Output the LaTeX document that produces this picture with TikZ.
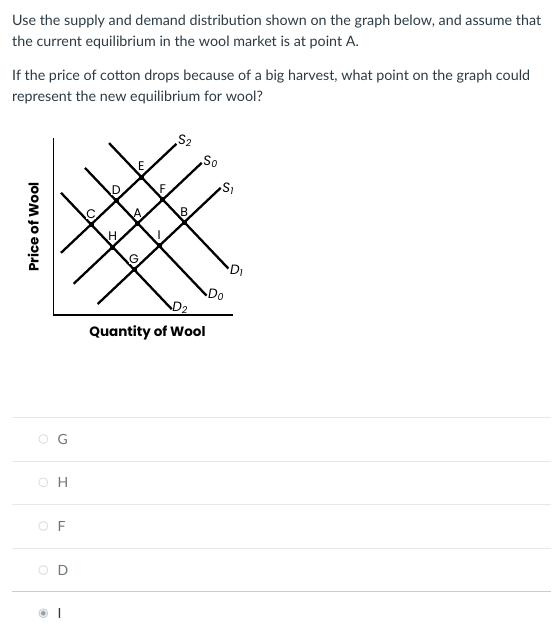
\documentclass[tikz,border=0pt]{standalone}
\usepackage{fontspec}
\setmainfont{Lato}
\newfontfamily\gfont{Poppins}
\usetikzlibrary{calc}
\definecolor{txt}{HTML}{2D3B45}
\definecolor{opttxt}{HTML}{6B7780}
\definecolor{sepc}{HTML}{E6E8EA}
\definecolor{sepd}{HTML}{C7CDD1}
\definecolor{radc}{HTML}{D5D9DC}
\tikzset{
  qtext/.style={anchor=base west, inner sep=0, text=txt, font=\fontsize{14.3}{17}\selectfont},
  curve/.style={line width=2.3pt, black},
  axis/.style={line width=1.2pt, black},
  pt/.style={rectangle, fill=black, minimum size=5pt, inner sep=0},
  plabel/.style={fill=white, inner sep=0.3pt, font=\gfont\fontsize{12.5}{12.5}\selectfont},
  clabel/.style={anchor=west, inner sep=0.5pt, font=\gfont\itshape\fontsize{13.5}{13.5}\selectfont},
  albl/.style={inner sep=0, font=\gfont\bfseries\fontsize{13.5}{13.5}\selectfont},
  sep/.style={draw=sepc, line width=0.8pt},
  sepdark/.style={draw=sepd, line width=0.8pt},
  radio/.style={circle, draw=radc, line width=0.7pt, minimum size=9pt, inner sep=0},
  opt/.style={anchor=west, inner sep=0, text=opttxt, font=\fontsize{14}{14}\selectfont}
}
\begin{document}
\begin{tikzpicture}[x=1pt,y=-1pt]
\useasboundingbox[fill=white] (0,0) rectangle (558,638);

% question text
\node[qtext] (q1) at (12,25.7) {Use the supply and demand distribution shown on the graph below, and assume that};
\node[qtext] (q2) at (12,46.7) {the current equilibrium in the wool market is at point A.};
\node[qtext] (q3) at (12,80.3) {If the price of cotton drops because of a big harvest, what point on the graph could};
\node[qtext] (q4) at (12,101.3) {represent the new equilibrium for wool?};

% grid of the graph
\coordinate (A) at (137.7,223.3);
\coordinate (p) at (21.5,22.6);
\coordinate (q) at (25.1,-23.7);
\coordinate (C) at ($(A)-(p)-(q)$);
\coordinate (D) at ($(A)-(p)$);
\coordinate (E) at ($(A)-(p)+(q)$);
\coordinate (H) at ($(A)-(q)$);
\coordinate (F) at ($(A)+(q)$);
\coordinate (G) at ($(A)+(p)-(q)$);
\coordinate (I) at ($(A)+(p)$);
\coordinate (B) at ($(A)+(p)+(q)$);

% curve ends
\coordinate (s2a) at ($(C)-1.2*(q)$);
\coordinate (s2b) at ($(E)+1.4*(q)$);
\coordinate (s0a) at ($(H)-1.55*(q)$);
\coordinate (s0b) at ($(F)+1.55*(q)$);
\coordinate (s1a) at ($(G)-1.45*(q)$);
\coordinate (s1b) at ($(B)+1.45*(q)$);
\coordinate (d1a) at ($(E)-1.5*(p)$);
\coordinate (d1b) at ($(B)+2.05*(p)$);
\coordinate (d0a) at ($(D)-1.45*(p)$);
\coordinate (d0b) at ($(I)+2.2*(p)$);
\coordinate (d2a) at ($(C)-1.4*(p)$);
\coordinate (d2b) at ($(G)+1.75*(p)$);

% axes
\coordinate (yt) at (53.3,138);
\coordinate (o) at (53.3,315);
\coordinate (xe) at (233,315);
\draw[axis] (yt) -- (o) -- (xe);

% curves
\draw[curve] (s2a) -- (C) -- (D) -- (E) -- (s2b);
\draw[curve] (s0a) -- (H) -- (A) -- (F) -- (s0b);
\draw[curve] (s1a) -- (G) -- (I) -- (B) -- (s1b);
\draw[curve] (d1a) -- (E) -- (F) -- (B) -- (d1b);
\draw[curve] (d0a) -- (D) -- (A) -- (I) -- (d0b);
\draw[curve] (d2a) -- (C) -- (H) -- (G) -- (d2b);

% curve labels
\node[clabel] (lS2) at ($(s2b)+(1,-3)$) {S\textsubscript{2}};
\node[clabel] (lS0) at ($(s0b)+(1,-1)$) {S\textsubscript{0}};
\node[clabel] (lS1) at ($(s1b)+(1,1)$) {S\textsubscript{1}};
\node[clabel] (lD1) at ($(d1b)+(1,2)$) {D\textsubscript{1}};
\node[clabel] (lD0) at ($(d0b)+(1,-1)$) {D\textsubscript{0}};
\node[clabel] (lD2) at ($(d2b)+(0,-1)$) {D\textsubscript{2}};

% points
\foreach \P in {A,B,C,D,E,F,G,H,I}{
  \node[pt] (n\P) at (\P) {};
  \node[plabel] (t\P) at ($(\P)+(0,-10.5)$) {\P};
}

% axis labels
\node[albl, rotate=90] (py) at (33.3,227) {Price of Wool};
\node[albl] (qx) at (147.5,333.3) {Quantity of Wool};

% answer options
\draw[sep] (12,417.3) -- (551,417.3);
\draw[sep] (12,461) -- (551,461);
\draw[sep] (12,504.3) -- (551,504.3);
\draw[sep] (12,548.3) -- (551,548.3);
\draw[sepdark] (12,591.7) -- (551,591.7);

\node[radio] (rG) at (43.3,439) {};
\node[opt] (oG) at (57.3,439) {G};
\node[radio] (rH) at (43.3,482.3) {};
\node[opt] (oH) at (57.3,482.3) {H};
\node[radio] (rF) at (43.3,526) {};
\node[opt] (oF) at (57.3,526) {F};
\node[radio] (rD) at (43.3,570) {};
\node[opt] (oD) at (57.3,570) {D};
\node[radio, draw=sepd, fill=sepc] (rI) at (43.3,613.3) {};
\node[circle, fill=opttxt!70, minimum size=4.5pt, inner sep=0] (rIdot) at (rI) {};
\node[opt, text=txt] (oI) at (57.3,613.3) {I};
\end{tikzpicture}
\end{document}
